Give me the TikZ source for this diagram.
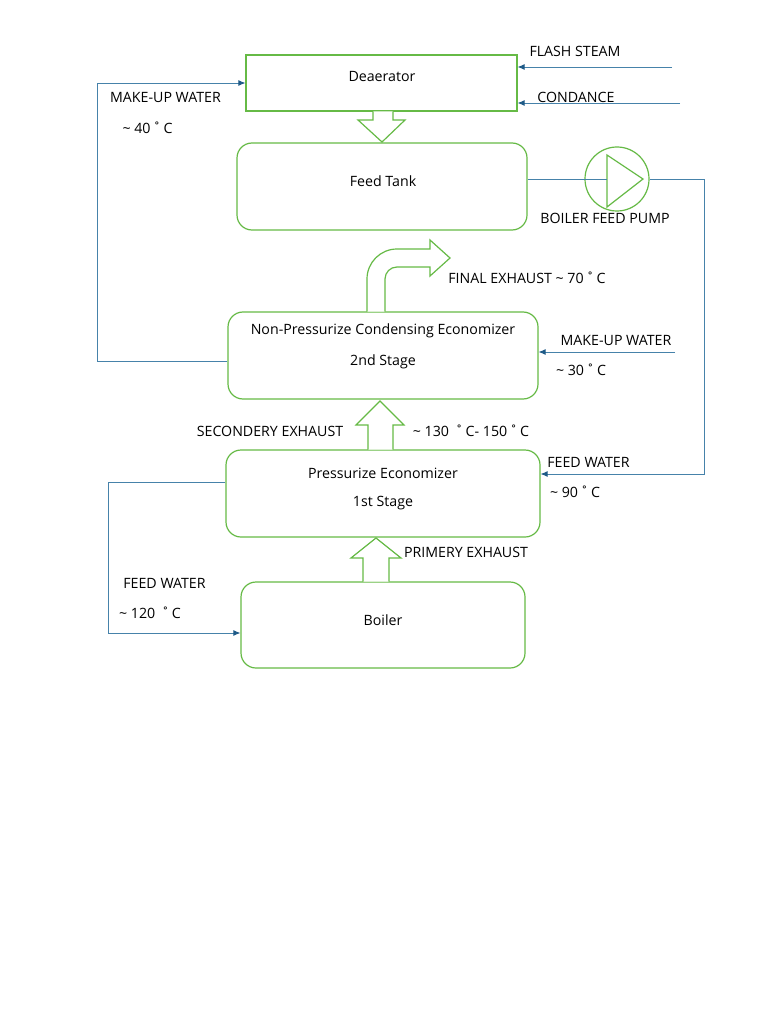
\documentclass[tikz,border=0pt]{standalone}
\usepackage{fontspec}
\setmainfont{Open Sans}
\usetikzlibrary{arrows.meta,calc}
\definecolor{boxgreen}{RGB}{102,186,70}
\definecolor{flowblue}{RGB}{70,130,170}
\definecolor{tipblue}{RGB}{30,90,135}
\tikzset{
  every node/.style={font=\fontsize{14.2}{16}\selectfont, text=black, inner sep=0pt},
  sqbox/.style={draw=boxgreen, line width=1.2pt, rectangle},
  rbox/.style={draw=boxgreen, line width=1.2pt, rectangle, rounded corners=15pt},
  blockarrow/.style={draw=boxgreen, line width=1.2pt, fill=white, line join=miter},
  flow/.style={draw=flowblue, line width=0.9pt, -{Latex[length=7pt,width=6pt,color=tipblue]}},
  plainflow/.style={draw=flowblue, line width=0.9pt},
  lbl/.style={anchor=center}
}
\begin{document}
\begin{tikzpicture}[x=1pt,y=-1pt]
\useasboundingbox (0,0) rectangle (768,1024);
\fill[white] (0,0) rectangle (768,1024);

% boxes
\node[sqbox, minimum width=271pt, minimum height=56pt] (dea) at (381.5,83) {};
\node[rbox, minimum width=290pt, minimum height=87pt] (tank) at (382,186.5) {};
\node[rbox, minimum width=310pt, minimum height=87pt] (np) at (383,355.5) {};
\node[rbox, minimum width=314pt, minimum height=87pt] (pe) at (383,493.5) {};
\node[rbox, minimum width=284pt, minimum height=86pt] (boiler) at (383,625) {};
\node[circle, draw=boxgreen, line width=1.2pt, minimum size=64pt] (pump) at (617,179) {};

% texts in boxes
\node[lbl] (tdea) at (382,77) {Deaerator};
\node[lbl] (ttank) at (383,181) {Feed Tank};
\node[lbl] (tnp1) at (383,331) {Non-Pressurize Condensing Economizer};
\node[lbl] (tnp2) at (383,362) {2nd Stage};
\node[lbl] (tpe1) at (383,473) {Pressurize Economizer};
\node[lbl] (tpe2) at (383,503) {1st Stage};
\node[lbl] (tboil) at (383,620) {Boiler};

% pump triangle
\coordinate (tri1) at (607,155);
\coordinate (tri2) at (607,207);
\coordinate (tri3) at (643,179);
\draw[boxgreen, line width=1.2pt, line join=miter] (tri1) -- (tri3) -- (tri2) -- cycle;

% block arrow deaerator -> feed tank
\draw[blockarrow] (373,111.5) -- (373,120) -- (358,120) -- (382,142) -- (405,120) -- (393,120) -- (393,111.5);
% secondary exhaust
\draw[blockarrow] (368,449.5) -- (368,425) -- (356,425) -- (380,401) -- (404,425) -- (393,425) -- (393,449.5);
% primary exhaust
\draw[blockarrow] (363,581.5) -- (363,558) -- (351,558) -- (376,538) -- (401,558) -- (389,558) -- (389,581.5);
% final exhaust bent arrow
\draw[blockarrow] (367,311.5) -- (367,279) arc[start angle=180, end angle=270, radius=30] -- (430,249) -- (430,240) -- (450,258) -- (430,276) -- (430,267) -- (397,267) arc[start angle=270, end angle=180, radius=12] -- (385,311.5);

% blue flows
\draw[flow] ([yshift=-6pt]np.west) -- (97,361.5) |- (dea.west);
\coordinate (fsIn) at (672,67);
\draw[flow] (fsIn) -- (dea.east |- fsIn);
\coordinate (cdIn) at (680,103);
\draw[flow] (cdIn) -- (dea.east |- cdIn);
\draw[plainflow] (tank.east |- pump.center) -- (tri1 |- pump.center);
\coordinate (pumpTurn) at (704,179);
\draw[flow] (pump.east) -- (pumpTurn) |- ([yshift=19.5pt]pe.east);
\coordinate (mw2In) at (675,352);
\draw[flow] (mw2In) -- (np.east |- mw2In);
\coordinate (fwTurn) at (108,482);
\draw[flow] (pe.west |- fwTurn) -- (fwTurn) |- ([yshift=-8pt]boiler.west);

% labels
\node[lbl] (lfs) at (575,51) {FLASH STEAM};
\node[lbl] (lcd) at (576,97) {CONDANCE};
\node[lbl] (lpump) at (605,218) {BOILER FEED PUMP};
\node[lbl] (lmw1) at (165.5,97) {MAKE-UP WATER};
\node[lbl] (lt40) at (147.5,128) {\textasciitilde\ 40\,˚\,C};
\node[lbl] (lfin) at (527,278) {FINAL EXHAUST \textasciitilde\ 70\,˚\,C};
\node[lbl] (lmw2) at (616,340) {MAKE-UP WATER};
\node[lbl] (lt30) at (581,370) {\textasciitilde\ 30\,˚\,C};
\node[lbl] (lsec) at (270,431) {SECONDERY EXHAUST};
\node[lbl] (lt130) at (471,431) {\textasciitilde\ 130 \,˚\,C- 150\,˚\,C};
\node[lbl] (lfw1) at (588.5,462) {FEED WATER};
\node[lbl] (lt90) at (575,492) {\textasciitilde\ 90\,˚\,C};
\node[lbl] (lprim) at (466,552) {PRIMERY EXHAUST};
\node[lbl] (lfw2) at (164.5,583) {FEED WATER};
\node[lbl] (lt120) at (150,613) {\textasciitilde\ 120 \,˚\,C};
\end{tikzpicture}
\end{document}
